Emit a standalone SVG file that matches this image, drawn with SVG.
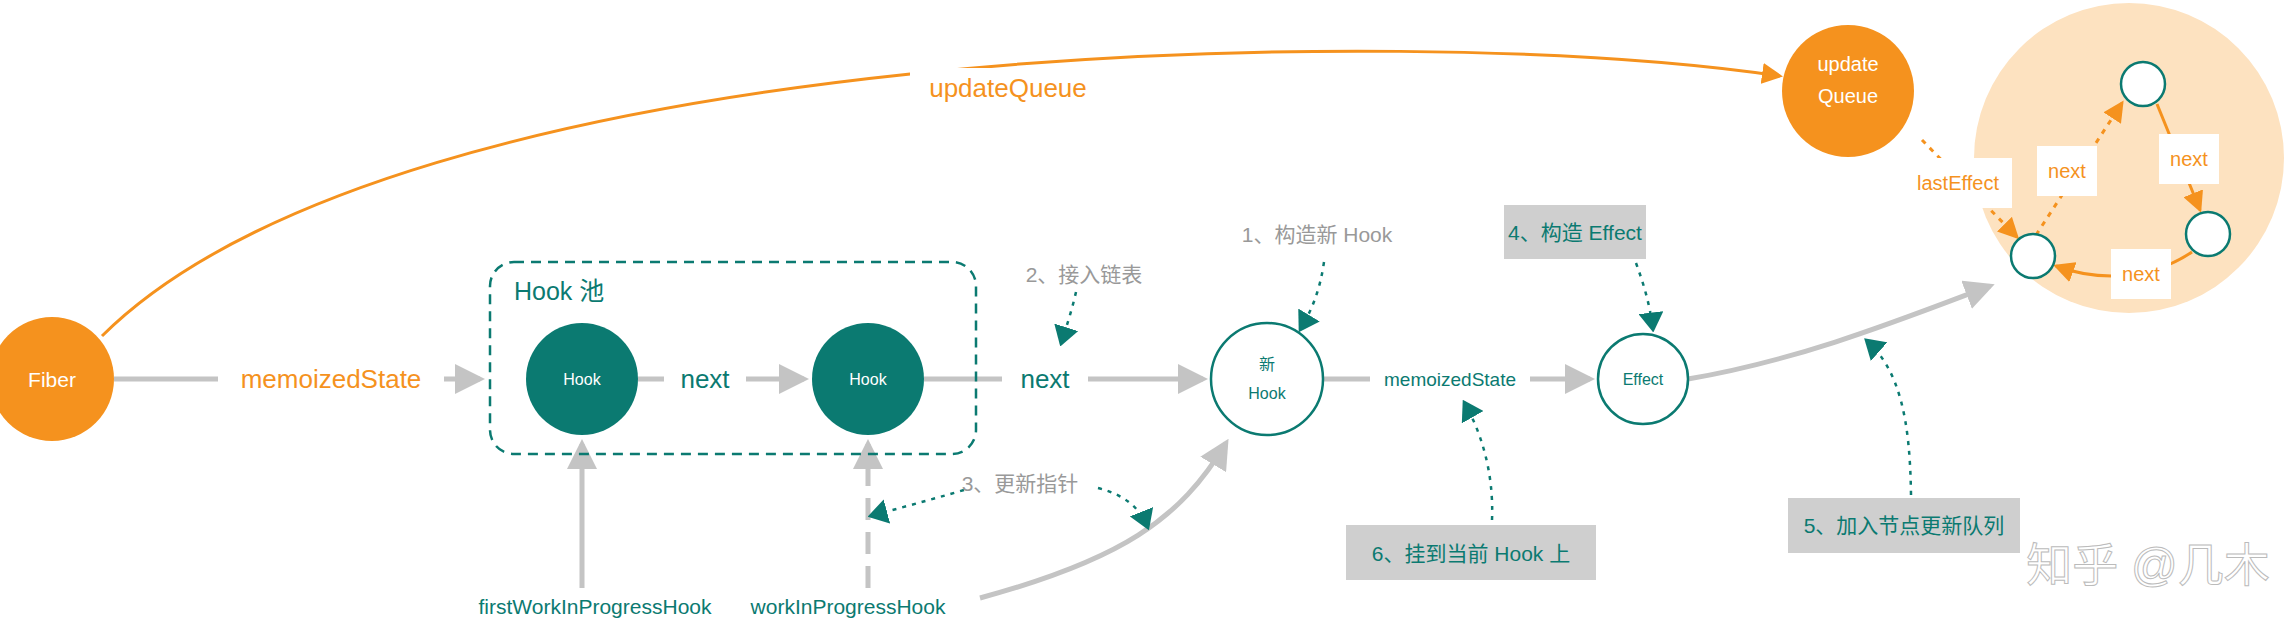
<svg xmlns="http://www.w3.org/2000/svg" width="2294" height="632" viewBox="0 0 2294 632">
<style>
text{font-family:"Liberation Sans","Noto Sans CJK SC",sans-serif;text-anchor:middle;dominant-baseline:central}
.teal{fill:#0b7a71}.or{fill:#f5921e}.gr{fill:#999}.wh{fill:#fff}
.gl{stroke:#c4c4c4;stroke-width:5;fill:none}
.dt{stroke:#0b7a71;stroke-width:2.5;fill:none;stroke-dasharray:4 6}
.od{stroke:#f5921e;stroke-width:3;fill:none;stroke-dasharray:5 6}
.os{stroke:#f5921e;stroke-width:3;fill:none}
.box{fill:#cfcfcf}
</style>
<defs>
<marker id="ga" markerWidth="6" markerHeight="6" refX="5" refY="3" orient="auto" markerUnits="strokeWidth"><path d="M0,0L6,3L0,6z" fill="#c4c4c4"/></marker>
<marker id="ta" markerWidth="8" markerHeight="10" refX="7" refY="5" orient="auto" markerUnits="strokeWidth"><path d="M0,0L8,5L0,10z" fill="#0b7a71"/></marker>
<marker id="oa" markerWidth="7" markerHeight="7" refX="6" refY="3.5" orient="auto" markerUnits="strokeWidth"><path d="M0,0L7,3.5L0,7z" fill="#f5921e"/></marker>
</defs>
<circle cx="2129" cy="158" r="155" fill="#fde2c0"/>
<g id="connectors">
<path d="M102,336 C400,40 1400,20 1780,76" class="os" marker-end="url(#oa)"/>
<rect x="910" y="68" width="196" height="40" fill="#fff"/>
<text x="1008" y="88" class="or" font-size="26">updateQueue</text>
<path d="M114,379 H480" class="gl" marker-end="url(#ga)"/>
<rect x="218" y="360" width="226" height="38" fill="#fff"/>
<text x="331" y="379" class="or" font-size="26">memoizedState</text>
<path d="M638,379 H804" class="gl" marker-end="url(#ga)"/>
<rect x="664" y="360" width="82" height="38" fill="#fff"/>
<text x="705" y="379" class="teal" font-size="26">next</text>
<path d="M924,379 H1203" class="gl" marker-end="url(#ga)"/>
<rect x="1002" y="360" width="86" height="38" fill="#fff"/>
<text x="1045" y="379" class="teal" font-size="26">next</text>
<path d="M1323,379 H1590" class="gl" marker-end="url(#ga)"/>
<rect x="1370" y="364" width="160" height="30" fill="#fff"/>
<text x="1450" y="379" class="teal" font-size="19">memoizedState</text>
<path d="M1688,379 C1800,360 1900,320 1990,286" class="gl" marker-end="url(#ga)"/>
<path d="M582,588 V444" class="gl" marker-end="url(#ga)"/>
<path d="M868,588 V444" class="gl" stroke-dasharray="22 12" marker-end="url(#ga)"/>
<path d="M980,598 C1120,560 1180,520 1226,443" class="gl" marker-end="url(#ga)"/>
<path d="M1324,262 C1320,290 1312,310 1300,330" class="dt" marker-end="url(#ta)"/>
<path d="M1076,292 C1072,310 1066,328 1061,344" class="dt" marker-end="url(#ta)"/>
<path d="M964,490 C930,500 900,508 870,516" class="dt" marker-end="url(#ta)"/>
<path d="M1098,488 C1125,495 1140,508 1148,528" class="dt" marker-end="url(#ta)"/>
<path d="M1636,263 C1644,285 1650,305 1653,330" class="dt" marker-end="url(#ta)"/>
<path d="M1492,520 C1494,470 1480,430 1464,402" class="dt" marker-end="url(#ta)"/>
<path d="M1911,495 C1910,420 1900,370 1866,340" class="dt" marker-end="url(#ta)"/>
<path d="M1922,140 L2017,237" class="od" marker-end="url(#oa)"/>
<path d="M2036,235 L2122,103" class="od" marker-end="url(#oa)"/>
<path d="M2157,104 L2200,210" class="os" marker-end="url(#oa)"/>
<path d="M2192,252 C2150,280 2100,282 2056,266" class="os" marker-end="url(#oa)"/>
<rect x="1904" y="158" width="108" height="50" fill="#fff"/>
<text x="1958" y="183" class="or" font-size="20">lastEffect</text>
<rect x="2037" y="146" width="60" height="50" fill="#fff"/>
<text x="2067" y="171" class="or" font-size="20">next</text>
<rect x="2159" y="134" width="60" height="50" fill="#fff"/>
<text x="2189" y="159" class="or" font-size="20">next</text>
<rect x="2111" y="249" width="60" height="50" fill="#fff"/>
<text x="2141" y="274" class="or" font-size="20">next</text>
</g>
<g id="hookpool"><rect x="490" y="262" width="486" height="192" rx="24" fill="none" stroke="#0b7a71" stroke-width="2.5" stroke-dasharray="10 7"/>
<text x="514" y="291" class="teal" font-size="25" style="text-anchor:start">Hook 池</text></g>
<g id="fiber"><circle cx="52" cy="379" r="62" fill="#f5921e"/><text x="52" y="379" class="wh" font-size="21">Fiber</text></g>
<g id="hook1"><circle cx="582" cy="379" r="56" fill="#0b7a71"/><text x="582" y="379" class="wh" font-size="16">Hook</text></g>
<g id="hook2"><circle cx="868" cy="379" r="56" fill="#0b7a71"/><text x="868" y="379" class="wh" font-size="16">Hook</text></g>
<g id="newhook"><circle cx="1267" cy="379" r="56" fill="#fff" stroke="#0b7a71" stroke-width="2.5"/><text x="1267" y="364" class="teal" font-size="16">新</text><text x="1267" y="393" class="teal" font-size="16">Hook</text></g>
<g id="effect"><circle cx="1643" cy="379" r="45" fill="#fff" stroke="#0b7a71" stroke-width="2.5"/><text x="1643" y="379" class="teal" font-size="16">Effect</text></g>
<g id="updatequeue"><circle cx="1848" cy="91" r="66" fill="#f5921e"/><text x="1848" y="64" class="wh" font-size="20">update</text><text x="1848" y="96" class="wh" font-size="20">Queue</text></g>
<g id="e1"><circle cx="2143" cy="84" r="22" fill="#fff" stroke="#0b7a71" stroke-width="2.5"/></g>
<g id="e2"><circle cx="2208" cy="234" r="22" fill="#fff" stroke="#0b7a71" stroke-width="2.5"/></g>
<g id="e3"><circle cx="2033" cy="256" r="22" fill="#fff" stroke="#0b7a71" stroke-width="2.5"/></g>
<g id="labels">
<text x="1317" y="234" class="gr" font-size="21">1、构造新 Hook</text>
<text x="1084" y="274" class="gr" font-size="21">2、接入链表</text>
<text x="1020" y="483" class="gr" font-size="21">3、更新指针</text>
<rect x="1504" y="205" width="142" height="54" class="box"/>
<text x="1575" y="232" class="teal" font-size="21">4、构造 Effect</text>
<rect x="1346" y="525" width="250" height="55" class="box"/>
<text x="1471" y="553" class="teal" font-size="21">6、挂到当前 Hook 上</text>
<rect x="1788" y="498" width="232" height="55" class="box"/>
<text x="1904" y="525" class="teal" font-size="21">5、加入节点更新队列</text>
<text x="595" y="606" class="teal" font-size="21">firstWorkInProgressHook</text>
<text x="848" y="606" class="teal" font-size="21">workInProgressHook</text>
</g>
<text x="2148" y="565" font-size="46" fill="#fff" fill-opacity="0.75" stroke="#bbb" stroke-width="1">知乎 @几木</text>
</svg>
